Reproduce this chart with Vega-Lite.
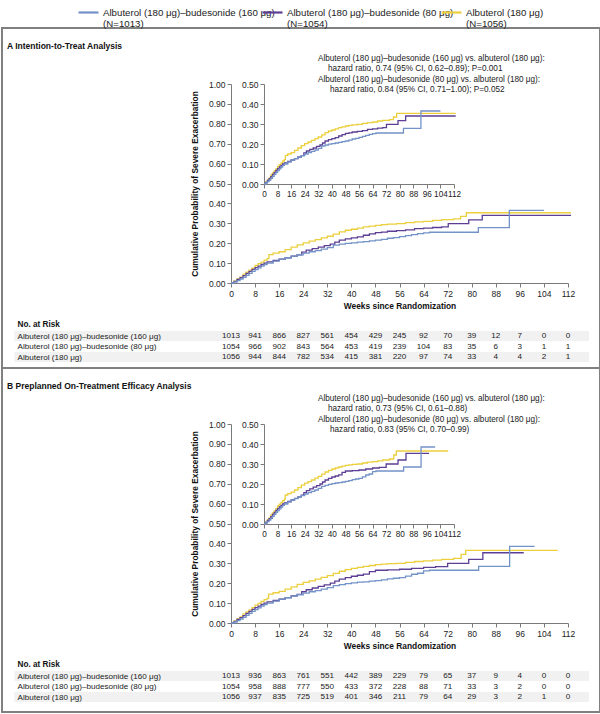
{
"$schema": "https://vega.github.io/schema/vega-lite/v6.json",
"padding": {"left": 1, "right": 1, "top": 1, "bottom": 0},
"bounds": "flush",
"spacing": 0,
"datasets": {
"curvesA": [
{"arm":"alb","wk":0,"p":0},{"arm":"alb","wk":1,"p":0.01},{"arm":"alb","wk":2,"p":0.02},{"arm":"alb","wk":3,"p":0.03},{"arm":"alb","wk":4,"p":0.045},{"arm":"alb","wk":5,"p":0.055},{"arm":"alb","wk":6,"p":0.065},{"arm":"alb","wk":7,"p":0.075},{"arm":"alb","wk":8,"p":0.088},{"arm":"alb","wk":9,"p":0.097},{"arm":"alb","wk":10,"p":0.105},{"arm":"alb","wk":11,"p":0.115},{"arm":"alb","wk":12,"p":0.122},{"arm":"alb","wk":12.6,"p":0.143},{"arm":"alb","wk":14,"p":0.15},{"arm":"alb","wk":16,"p":0.157},{"arm":"alb","wk":18,"p":0.168},{"arm":"alb","wk":20,"p":0.18},{"arm":"alb","wk":22,"p":0.192},{"arm":"alb","wk":24,"p":0.202},{"arm":"alb","wk":26,"p":0.21},{"arm":"alb","wk":28,"p":0.218},{"arm":"alb","wk":30,"p":0.227},{"arm":"alb","wk":32,"p":0.235},{"arm":"alb","wk":34,"p":0.246},{"arm":"alb","wk":36,"p":0.257},{"arm":"alb","wk":38,"p":0.265},{"arm":"alb","wk":40,"p":0.27},{"arm":"alb","wk":42,"p":0.276},{"arm":"alb","wk":44,"p":0.282},{"arm":"alb","wk":46,"p":0.286},{"arm":"alb","wk":48,"p":0.29},{"arm":"alb","wk":50,"p":0.293},{"arm":"alb","wk":52,"p":0.296},{"arm":"alb","wk":55,"p":0.298},{"arm":"alb","wk":58,"p":0.303},{"arm":"alb","wk":61,"p":0.307},{"arm":"alb","wk":64,"p":0.31},{"arm":"alb","wk":67,"p":0.315},{"arm":"alb","wk":70,"p":0.318},{"arm":"alb","wk":74,"p":0.322},{"arm":"alb","wk":76.3,"p":0.335},{"arm":"alb","wk":78.2,"p":0.353},{"arm":"alb","wk":113,"p":0.353},
{"arm":"b80","wk":0,"p":0},{"arm":"b80","wk":1,"p":0.008},{"arm":"b80","wk":2,"p":0.018},{"arm":"b80","wk":3,"p":0.027},{"arm":"b80","wk":4,"p":0.037},{"arm":"b80","wk":5,"p":0.048},{"arm":"b80","wk":6,"p":0.058},{"arm":"b80","wk":7,"p":0.068},{"arm":"b80","wk":8,"p":0.077},{"arm":"b80","wk":9,"p":0.085},{"arm":"b80","wk":10,"p":0.093},{"arm":"b80","wk":11,"p":0.1},{"arm":"b80","wk":12,"p":0.106},{"arm":"b80","wk":14,"p":0.113},{"arm":"b80","wk":16,"p":0.12},{"arm":"b80","wk":18,"p":0.127},{"arm":"b80","wk":20,"p":0.135},{"arm":"b80","wk":22,"p":0.142},{"arm":"b80","wk":23.5,"p":0.155},{"arm":"b80","wk":25,"p":0.165},{"arm":"b80","wk":27,"p":0.173},{"arm":"b80","wk":29,"p":0.18},{"arm":"b80","wk":31,"p":0.188},{"arm":"b80","wk":33,"p":0.195},{"arm":"b80","wk":34.5,"p":0.205},{"arm":"b80","wk":36,"p":0.215},{"arm":"b80","wk":38,"p":0.222},{"arm":"b80","wk":40,"p":0.227},{"arm":"b80","wk":42,"p":0.232},{"arm":"b80","wk":44,"p":0.24},{"arm":"b80","wk":46,"p":0.247},{"arm":"b80","wk":48,"p":0.253},{"arm":"b80","wk":50,"p":0.256},{"arm":"b80","wk":52,"p":0.26},{"arm":"b80","wk":55,"p":0.263},{"arm":"b80","wk":58,"p":0.267},{"arm":"b80","wk":61,"p":0.273},{"arm":"b80","wk":64,"p":0.276},{"arm":"b80","wk":67,"p":0.279},{"arm":"b80","wk":70,"p":0.282},{"arm":"b80","wk":72.2,"p":0.298},{"arm":"b80","wk":79,"p":0.317},{"arm":"b80","wk":83.5,"p":0.34},{"arm":"b80","wk":113,"p":0.34},
{"arm":"b160","wk":0,"p":0},{"arm":"b160","wk":1,"p":0.005},{"arm":"b160","wk":2,"p":0.012},{"arm":"b160","wk":3,"p":0.02},{"arm":"b160","wk":4,"p":0.028},{"arm":"b160","wk":5,"p":0.038},{"arm":"b160","wk":6,"p":0.048},{"arm":"b160","wk":7,"p":0.058},{"arm":"b160","wk":8,"p":0.067},{"arm":"b160","wk":9,"p":0.076},{"arm":"b160","wk":10,"p":0.085},{"arm":"b160","wk":11,"p":0.093},{"arm":"b160","wk":12,"p":0.1},{"arm":"b160","wk":14,"p":0.11},{"arm":"b160","wk":16,"p":0.12},{"arm":"b160","wk":18,"p":0.127},{"arm":"b160","wk":20,"p":0.135},{"arm":"b160","wk":22,"p":0.142},{"arm":"b160","wk":24,"p":0.15},{"arm":"b160","wk":26,"p":0.157},{"arm":"b160","wk":28,"p":0.163},{"arm":"b160","wk":30,"p":0.17},{"arm":"b160","wk":32,"p":0.178},{"arm":"b160","wk":34,"p":0.19},{"arm":"b160","wk":36,"p":0.195},{"arm":"b160","wk":38,"p":0.199},{"arm":"b160","wk":40,"p":0.202},{"arm":"b160","wk":42,"p":0.205},{"arm":"b160","wk":44,"p":0.208},{"arm":"b160","wk":46,"p":0.212},{"arm":"b160","wk":48,"p":0.215},{"arm":"b160","wk":50,"p":0.219},{"arm":"b160","wk":52,"p":0.225},{"arm":"b160","wk":54,"p":0.228},{"arm":"b160","wk":56,"p":0.233},{"arm":"b160","wk":58,"p":0.238},{"arm":"b160","wk":60,"p":0.243},{"arm":"b160","wk":62,"p":0.248},{"arm":"b160","wk":64,"p":0.252},{"arm":"b160","wk":66,"p":0.255},{"arm":"b160","wk":82.2,"p":0.278},{"arm":"b160","wk":92.5,"p":0.365},{"arm":"b160","wk":104,"p":0.365}
],
"curvesB": [
{"arm":"alb","wk":0,"p":0},{"arm":"alb","wk":1,"p":0.01},{"arm":"alb","wk":2,"p":0.02},{"arm":"alb","wk":3,"p":0.031},{"arm":"alb","wk":4,"p":0.046},{"arm":"alb","wk":5,"p":0.056},{"arm":"alb","wk":6,"p":0.066},{"arm":"alb","wk":7,"p":0.077},{"arm":"alb","wk":8,"p":0.09},{"arm":"alb","wk":9,"p":0.099},{"arm":"alb","wk":10,"p":0.108},{"arm":"alb","wk":11,"p":0.117},{"arm":"alb","wk":12,"p":0.124},{"arm":"alb","wk":12.5,"p":0.145},{"arm":"alb","wk":14,"p":0.152},{"arm":"alb","wk":16,"p":0.159},{"arm":"alb","wk":18,"p":0.17},{"arm":"alb","wk":20,"p":0.182},{"arm":"alb","wk":22,"p":0.194},{"arm":"alb","wk":24,"p":0.204},{"arm":"alb","wk":26,"p":0.212},{"arm":"alb","wk":28,"p":0.22},{"arm":"alb","wk":30,"p":0.229},{"arm":"alb","wk":32,"p":0.238},{"arm":"alb","wk":34,"p":0.249},{"arm":"alb","wk":36,"p":0.26},{"arm":"alb","wk":38,"p":0.268},{"arm":"alb","wk":40,"p":0.275},{"arm":"alb","wk":42,"p":0.28},{"arm":"alb","wk":44,"p":0.285},{"arm":"alb","wk":46,"p":0.289},{"arm":"alb","wk":48,"p":0.293},{"arm":"alb","wk":50,"p":0.296},{"arm":"alb","wk":52,"p":0.298},{"arm":"alb","wk":55,"p":0.3},{"arm":"alb","wk":58,"p":0.305},{"arm":"alb","wk":61,"p":0.309},{"arm":"alb","wk":64,"p":0.312},{"arm":"alb","wk":67,"p":0.316},{"arm":"alb","wk":70,"p":0.32},{"arm":"alb","wk":74,"p":0.325},{"arm":"alb","wk":76.5,"p":0.345},{"arm":"alb","wk":78,"p":0.365},{"arm":"alb","wk":108.6,"p":0.365},
{"arm":"b80","wk":0,"p":0},{"arm":"b80","wk":1,"p":0.008},{"arm":"b80","wk":2,"p":0.018},{"arm":"b80","wk":3,"p":0.027},{"arm":"b80","wk":4,"p":0.037},{"arm":"b80","wk":5,"p":0.048},{"arm":"b80","wk":6,"p":0.058},{"arm":"b80","wk":7,"p":0.068},{"arm":"b80","wk":8,"p":0.077},{"arm":"b80","wk":9,"p":0.085},{"arm":"b80","wk":10,"p":0.093},{"arm":"b80","wk":11,"p":0.1},{"arm":"b80","wk":12,"p":0.106},{"arm":"b80","wk":14,"p":0.113},{"arm":"b80","wk":16,"p":0.12},{"arm":"b80","wk":18,"p":0.128},{"arm":"b80","wk":20,"p":0.136},{"arm":"b80","wk":22,"p":0.144},{"arm":"b80","wk":23.5,"p":0.157},{"arm":"b80","wk":25,"p":0.167},{"arm":"b80","wk":27,"p":0.176},{"arm":"b80","wk":29,"p":0.184},{"arm":"b80","wk":31,"p":0.192},{"arm":"b80","wk":33,"p":0.2},{"arm":"b80","wk":34.5,"p":0.21},{"arm":"b80","wk":36,"p":0.22},{"arm":"b80","wk":38,"p":0.228},{"arm":"b80","wk":40,"p":0.235},{"arm":"b80","wk":42,"p":0.24},{"arm":"b80","wk":44,"p":0.246},{"arm":"b80","wk":46,"p":0.258},{"arm":"b80","wk":48,"p":0.265},{"arm":"b80","wk":52,"p":0.267},{"arm":"b80","wk":56,"p":0.27},{"arm":"b80","wk":60,"p":0.275},{"arm":"b80","wk":64,"p":0.28},{"arm":"b80","wk":68,"p":0.283},{"arm":"b80","wk":72,"p":0.3},{"arm":"b80","wk":79,"p":0.32},{"arm":"b80","wk":83.7,"p":0.353},{"arm":"b80","wk":97.3,"p":0.353},
{"arm":"b160","wk":0,"p":0},{"arm":"b160","wk":1,"p":0.005},{"arm":"b160","wk":2,"p":0.012},{"arm":"b160","wk":3,"p":0.02},{"arm":"b160","wk":4,"p":0.028},{"arm":"b160","wk":5,"p":0.038},{"arm":"b160","wk":6,"p":0.048},{"arm":"b160","wk":7,"p":0.058},{"arm":"b160","wk":8,"p":0.067},{"arm":"b160","wk":9,"p":0.076},{"arm":"b160","wk":10,"p":0.085},{"arm":"b160","wk":11,"p":0.093},{"arm":"b160","wk":12,"p":0.1},{"arm":"b160","wk":14,"p":0.11},{"arm":"b160","wk":16,"p":0.12},{"arm":"b160","wk":18,"p":0.127},{"arm":"b160","wk":20,"p":0.135},{"arm":"b160","wk":22,"p":0.142},{"arm":"b160","wk":24,"p":0.15},{"arm":"b160","wk":26,"p":0.157},{"arm":"b160","wk":28,"p":0.163},{"arm":"b160","wk":30,"p":0.17},{"arm":"b160","wk":32,"p":0.178},{"arm":"b160","wk":34,"p":0.188},{"arm":"b160","wk":36,"p":0.193},{"arm":"b160","wk":38,"p":0.198},{"arm":"b160","wk":40,"p":0.202},{"arm":"b160","wk":42,"p":0.205},{"arm":"b160","wk":44,"p":0.207},{"arm":"b160","wk":46,"p":0.21},{"arm":"b160","wk":48,"p":0.213},{"arm":"b160","wk":50,"p":0.217},{"arm":"b160","wk":52,"p":0.222},{"arm":"b160","wk":54,"p":0.225},{"arm":"b160","wk":56,"p":0.228},{"arm":"b160","wk":58,"p":0.236},{"arm":"b160","wk":60,"p":0.245},{"arm":"b160","wk":62,"p":0.25},{"arm":"b160","wk":64,"p":0.262},{"arm":"b160","wk":66,"p":0.265},{"arm":"b160","wk":82.3,"p":0.285},{"arm":"b160","wk":92.6,"p":0.385},{"arm":"b160","wk":100.9,"p":0.385}
],
"riskA": [
{"arm":"b160","wk":0,"n":1013},{"arm":"b160","wk":8,"n":941},{"arm":"b160","wk":16,"n":866},{"arm":"b160","wk":24,"n":827},{"arm":"b160","wk":32,"n":561},{"arm":"b160","wk":40,"n":454},{"arm":"b160","wk":48,"n":429},{"arm":"b160","wk":56,"n":245},{"arm":"b160","wk":64,"n":92},{"arm":"b160","wk":72,"n":70},{"arm":"b160","wk":80,"n":39},{"arm":"b160","wk":88,"n":12},{"arm":"b160","wk":96,"n":7},{"arm":"b160","wk":104,"n":0},{"arm":"b160","wk":112,"n":0},
{"arm":"b80","wk":0,"n":1054},{"arm":"b80","wk":8,"n":966},{"arm":"b80","wk":16,"n":902},{"arm":"b80","wk":24,"n":843},{"arm":"b80","wk":32,"n":564},{"arm":"b80","wk":40,"n":453},{"arm":"b80","wk":48,"n":419},{"arm":"b80","wk":56,"n":239},{"arm":"b80","wk":64,"n":104},{"arm":"b80","wk":72,"n":83},{"arm":"b80","wk":80,"n":35},{"arm":"b80","wk":88,"n":6},{"arm":"b80","wk":96,"n":3},{"arm":"b80","wk":104,"n":1},{"arm":"b80","wk":112,"n":1},
{"arm":"alb","wk":0,"n":1056},{"arm":"alb","wk":8,"n":944},{"arm":"alb","wk":16,"n":844},{"arm":"alb","wk":24,"n":782},{"arm":"alb","wk":32,"n":534},{"arm":"alb","wk":40,"n":415},{"arm":"alb","wk":48,"n":381},{"arm":"alb","wk":56,"n":220},{"arm":"alb","wk":64,"n":97},{"arm":"alb","wk":72,"n":74},{"arm":"alb","wk":80,"n":33},{"arm":"alb","wk":88,"n":4},{"arm":"alb","wk":96,"n":4},{"arm":"alb","wk":104,"n":2},{"arm":"alb","wk":112,"n":1}
],
"riskB": [
{"arm":"b160","wk":0,"n":1013},{"arm":"b160","wk":8,"n":936},{"arm":"b160","wk":16,"n":863},{"arm":"b160","wk":24,"n":761},{"arm":"b160","wk":32,"n":551},{"arm":"b160","wk":40,"n":442},{"arm":"b160","wk":48,"n":389},{"arm":"b160","wk":56,"n":229},{"arm":"b160","wk":64,"n":79},{"arm":"b160","wk":72,"n":65},{"arm":"b160","wk":80,"n":37},{"arm":"b160","wk":88,"n":9},{"arm":"b160","wk":96,"n":4},{"arm":"b160","wk":104,"n":0},{"arm":"b160","wk":112,"n":0},
{"arm":"b80","wk":0,"n":1054},{"arm":"b80","wk":8,"n":958},{"arm":"b80","wk":16,"n":888},{"arm":"b80","wk":24,"n":777},{"arm":"b80","wk":32,"n":550},{"arm":"b80","wk":40,"n":433},{"arm":"b80","wk":48,"n":372},{"arm":"b80","wk":56,"n":228},{"arm":"b80","wk":64,"n":88},{"arm":"b80","wk":72,"n":71},{"arm":"b80","wk":80,"n":33},{"arm":"b80","wk":88,"n":3},{"arm":"b80","wk":96,"n":2},{"arm":"b80","wk":104,"n":0},{"arm":"b80","wk":112,"n":0},
{"arm":"alb","wk":0,"n":1056},{"arm":"alb","wk":8,"n":937},{"arm":"alb","wk":16,"n":835},{"arm":"alb","wk":24,"n":725},{"arm":"alb","wk":32,"n":519},{"arm":"alb","wk":40,"n":401},{"arm":"alb","wk":48,"n":346},{"arm":"alb","wk":56,"n":211},{"arm":"alb","wk":64,"n":79},{"arm":"alb","wk":72,"n":64},{"arm":"alb","wk":80,"n":29},{"arm":"alb","wk":88,"n":3},{"arm":"alb","wk":96,"n":2},{"arm":"alb","wk":104,"n":1},{"arm":"alb","wk":112,"n":0}
],
"noteA": [
{"wk":28.9,"p":1.126,"t":"Albuterol (180 μg)–budesonide (160 μg) vs. albuterol (180 μg):"},
{"wk":32.2,"p":1.075,"t":"hazard ratio, 0.74 (95% CI, 0.62–0.89); P=0.001"},
{"wk":28.9,"p":1.02,"t":"Albuterol (180 μg)–budesonide (80 μg) vs. albuterol (180 μg):"},
{"wk":32.9,"p":0.97,"t":"hazard ratio, 0.84 (95% CI, 0.71–1.00); P=0.052"}
],
"noteB": [
{"wk":28.9,"p":1.126,"t":"Albuterol (180 μg)–budesonide (160 μg) vs. albuterol (180 μg):"},
{"wk":32.2,"p":1.075,"t":"hazard ratio, 0.73 (95% CI, 0.61–0.88)"},
{"wk":28.9,"p":1.02,"t":"Albuterol (180 μg)–budesonide (80 μg) vs. albuterol (180 μg):"},
{"wk":32.9,"p":0.97,"t":"hazard ratio, 0.83 (95% CI, 0.70–0.99)"}
]
},
"vconcat": [
{
"width": 598, "height": 340,
"title": {"text": "A   Intention-to-Treat Analysis", "anchor": "start", "offset": -22, "dx": 5},
"resolve": {"scale": {"x": "independent", "y": "independent"}, "axis": {"x": "independent", "y": "independent"}},
"layer": [
{"data": {"name": "curvesA"},
 "mark": {"type": "line", "interpolate": "step-after", "strokeWidth": 1.3},
 "encoding": {
  "x": {"field": "wk", "type": "quantitative", "scale": {"domain": [0, 112], "range": [229, 566], "nice": false, "zero": false},
        "axis": {"orient": "bottom", "values": [0,8,16,24,32,40,48,56,64,72,80,88,96,104,112], "offset": -85, "title": "Weeks since Randomization", "titlePadding": 4}},
  "y": {"field": "p", "type": "quantitative", "scale": {"domain": [0, 1], "range": [255, 56], "nice": false},
        "axis": {"orient": "left", "values": [0,0.1,0.2,0.3,0.4,0.5,0.6,0.7,0.8,0.9,1], "format": ".2f", "offset": -229, "title": "Cumulative Probability of Severe Exacerbation", "titlePadding": 9}},
  "color": {"field": "arm", "type": "nominal", "scale": {"domain": ["b160", "b80", "alb"], "range": ["#7393c8", "#5c3f94", "#ebcf3c"]},
        "legend": {"orient": "none", "legendX": 75, "legendY": -27, "direction": "horizontal", "columns": 3, "gridAlign": "none", "title": null, "symbolType": "stroke", "symbolSize": 400, "symbolStrokeWidth": 2.2, "labelFontSize": 9.7, "labelLimit": 300, "columnPadding": -17, "labelOffset": 3, "labelBaseline": "middle",
          "labelExpr": "datum.value == 'b160' ? ['Albuterol (180 μg)–budesonide (160 μg)', '(N=1013)'] : datum.value == 'b80' ? ['Albuterol (180 μg)–budesonide (80 μg)', '(N=1054)'] : ['Albuterol (180 μg)', '(N=1056)']"}}
 }},
{"data": {"name": "curvesA"},
 "mark": {"type": "line", "interpolate": "step-after", "strokeWidth": 1.3},
 "encoding": {
  "x": {"field": "wk", "type": "quantitative", "scale": {"domain": [0, 112], "range": [262, 452], "nice": false, "zero": false},
        "axis": {"orient": "bottom", "values": [0,8,16,24,32,40,48,56,64,72,80,88,96,104,112], "offset": -184, "title": null, "labelFontSize": 8.2}},
  "y": {"field": "p", "type": "quantitative", "scale": {"domain": [0, 0.5], "range": [156, 56], "nice": false},
        "axis": {"orient": "left", "values": [0,0.1,0.2,0.3,0.4,0.5], "format": ".2f", "offset": -262, "title": null}},
  "color": {"field": "arm", "type": "nominal", "scale": {"domain": ["b160", "b80", "alb"], "range": ["#7393c8", "#5c3f94", "#ebcf3c"]}}
 }},
{"data": {"name": "noteA"},
 "mark": {"type": "text", "align": "left", "baseline": "middle", "fontSize": 8.2},
 "encoding": {
  "x": {"field": "wk", "type": "quantitative", "scale": {"domain": [0, 112], "range": [229, 566], "nice": false, "zero": false}, "axis": null},
  "y": {"field": "p", "type": "quantitative", "scale": {"domain": [0, 1], "range": [255, 56], "nice": false}, "axis": null},
  "text": {"field": "t"}
 }},
{"data": {"name": "riskA"},
 "transform": [{"filter": "datum.wk == 0 && datum.arm != 'b80'"}],
 "mark": {"type": "rule", "strokeWidth": 10, "color": "#f1f1f1"},
 "encoding": {
  "x": {"datum": -72, "type": "quantitative", "scale": {"domain": [0, 112], "range": [229, 566], "nice": false, "zero": false}, "axis": null},
  "x2": {"datum": 119},
  "y": {"field": "arm", "type": "nominal", "scale": {"type": "point", "domain": ["b160", "b80", "alb"], "range": [308, 329], "padding": 0}, "axis": null}
 }},
{"data": {"name": "riskA"},
 "mark": {"type": "text", "align": "center", "baseline": "middle", "fontSize": 8.1},
 "encoding": {
  "x": {"field": "wk", "type": "quantitative", "scale": {"domain": [0, 112], "range": [229, 566], "nice": false, "zero": false}, "axis": null},
  "y": {"field": "arm", "type": "nominal", "scale": {"type": "point", "domain": ["b160", "b80", "alb"], "range": [308, 329], "padding": 0},
        "axis": {"orient": "left", "offset": -15, "zindex": 2, "domain": false, "ticks": false, "tickSize": 0, "labelPadding": 0, "labelAlign": "left", "labelBaseline": "middle", "labelLimit": 300, "labelFontSize": 8.1,
          "labelExpr": "datum.value == 'b160' ? 'Albuterol (180 μg)–budesonide (160 μg)' : datum.value == 'b80' ? 'Albuterol (180 μg)–budesonide (80 μg)' : 'Albuterol (180 μg)'",
          "title": "No. at Risk", "titleFontSize": 8.2, "titleAngle": 0, "titleAlign": "left", "titleBaseline": "middle", "titleX": 0, "titleY": 296}},
  "text": {"field": "n", "type": "quantitative"}
 }}
]
},
{
"width": 598, "height": 344,
"title": {"text": "B   Preplanned On-Treatment Efficacy Analysis", "anchor": "start", "offset": -22, "dx": 5},
"resolve": {"scale": {"x": "independent", "y": "independent"}, "axis": {"x": "independent", "y": "independent"}},
"layer": [
{"data": {"name": "curvesB"},
 "mark": {"type": "line", "interpolate": "step-after", "strokeWidth": 1.3},
 "encoding": {
  "x": {"field": "wk", "type": "quantitative", "scale": {"domain": [0, 112], "range": [229, 566], "nice": false, "zero": false},
        "axis": {"orient": "bottom", "values": [0,8,16,24,32,40,48,56,64,72,80,88,96,104,112], "offset": -89, "title": "Weeks since Randomization", "titlePadding": 4}},
  "y": {"field": "p", "type": "quantitative", "scale": {"domain": [0, 1], "range": [255, 56], "nice": false},
        "axis": {"orient": "left", "values": [0,0.1,0.2,0.3,0.4,0.5,0.6,0.7,0.8,0.9,1], "format": ".2f", "offset": -229, "title": "Cumulative Probability of Severe Exacerbation", "titlePadding": 9}},
  "color": {"field": "arm", "type": "nominal", "scale": {"domain": ["b160", "b80", "alb"], "range": ["#7393c8", "#5c3f94", "#ebcf3c"]}}
 }},
{"data": {"name": "curvesB"},
 "mark": {"type": "line", "interpolate": "step-after", "strokeWidth": 1.3},
 "encoding": {
  "x": {"field": "wk", "type": "quantitative", "scale": {"domain": [0, 112], "range": [262, 452], "nice": false, "zero": false},
        "axis": {"orient": "bottom", "values": [0,8,16,24,32,40,48,56,64,72,80,88,96,104,112], "offset": -188, "title": null, "labelFontSize": 8.2}},
  "y": {"field": "p", "type": "quantitative", "scale": {"domain": [0, 0.5], "range": [156, 56], "nice": false},
        "axis": {"orient": "left", "values": [0,0.1,0.2,0.3,0.4,0.5], "format": ".2f", "offset": -262, "title": null}},
  "color": {"field": "arm", "type": "nominal", "scale": {"domain": ["b160", "b80", "alb"], "range": ["#7393c8", "#5c3f94", "#ebcf3c"]}}
 }},
{"data": {"name": "noteB"},
 "mark": {"type": "text", "align": "left", "baseline": "middle", "fontSize": 8.2},
 "encoding": {
  "x": {"field": "wk", "type": "quantitative", "scale": {"domain": [0, 112], "range": [229, 566], "nice": false, "zero": false}, "axis": null},
  "y": {"field": "p", "type": "quantitative", "scale": {"domain": [0, 1], "range": [255, 56], "nice": false}, "axis": null},
  "text": {"field": "t"}
 }},
{"data": {"name": "riskB"},
 "transform": [{"filter": "datum.wk == 0 && datum.arm != 'b80'"}],
 "mark": {"type": "rule", "strokeWidth": 10, "color": "#f1f1f1"},
 "encoding": {
  "x": {"datum": -72, "type": "quantitative", "scale": {"domain": [0, 112], "range": [229, 566], "nice": false, "zero": false}, "axis": null},
  "x2": {"datum": 119},
  "y": {"field": "arm", "type": "nominal", "scale": {"type": "point", "domain": ["b160", "b80", "alb"], "range": [308, 329], "padding": 0}, "axis": null}
 }},
{"data": {"name": "riskB"},
 "mark": {"type": "text", "align": "center", "baseline": "middle", "fontSize": 8.1},
 "encoding": {
  "x": {"field": "wk", "type": "quantitative", "scale": {"domain": [0, 112], "range": [229, 566], "nice": false, "zero": false}, "axis": null},
  "y": {"field": "arm", "type": "nominal", "scale": {"type": "point", "domain": ["b160", "b80", "alb"], "range": [308, 329], "padding": 0},
        "axis": {"orient": "left", "offset": -15, "zindex": 2, "domain": false, "ticks": false, "tickSize": 0, "labelPadding": 0, "labelAlign": "left", "labelBaseline": "middle", "labelLimit": 300, "labelFontSize": 8.1,
          "labelExpr": "datum.value == 'b160' ? 'Albuterol (180 μg)–budesonide (160 μg)' : datum.value == 'b80' ? 'Albuterol (180 μg)–budesonide (80 μg)' : 'Albuterol (180 μg)'",
          "title": "No. at Risk", "titleFontSize": 8.2, "titleAngle": 0, "titleAlign": "left", "titleBaseline": "middle", "titleX": 0, "titleY": 296}},
  "text": {"field": "n", "type": "quantitative"}
 }}
]
}
],
"config": {
 "font": "Liberation Sans",
 "view": {"stroke": "#808080", "strokeWidth": 2},
 "axis": {"grid": false, "domainColor": "#7a7a7a", "tickColor": "#7a7a7a", "tickSize": 4, "labelFontSize": 8.5, "labelColor": "#222222", "titleFontSize": 8.4, "titleColor": "#111111", "titleFontWeight": "bold", "labelOverlap": false, "labelFlush": false, "labelPadding": 2},
 "title": {"fontSize": 8.5, "fontWeight": "bold", "color": "#111111"},
 "text": {"color": "#222222"},
 "legend": {"labelColor": "#222222"}
}
}
